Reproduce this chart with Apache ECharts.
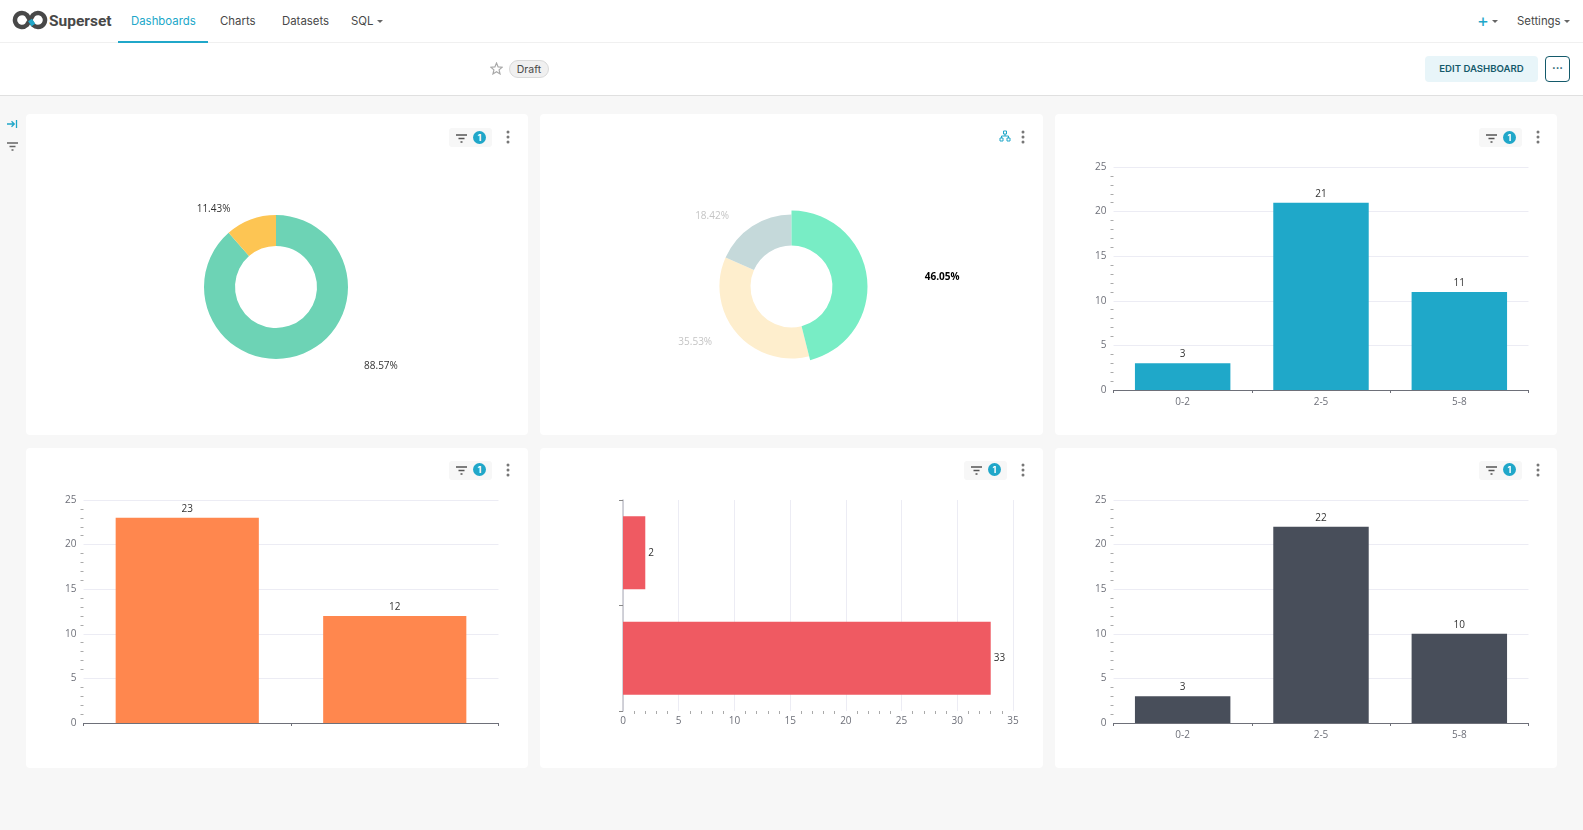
<!DOCTYPE html>
<html><head><meta charset="utf-8">
<script src="https://cdn.jsdelivr.net/npm/echarts@6/dist/echarts.min.js"></script>
<style>
html,body{margin:0;padding:0;width:1583px;height:830px;overflow:hidden;background:#f7f7f7;font-family:Inter,"Noto Sans",sans-serif;color:#484848}
.abs{position:absolute}
#chart{position:absolute;left:0;top:0;width:1583px;height:830px;z-index:2}
.card{position:absolute;background:#fff;border-radius:4px;z-index:1}
.ui{z-index:3}
.nav{font-size:11.4px;line-height:14px;white-space:nowrap}
svg{display:block}
</style></head><body>
<div class="abs" style="left:0;top:0;width:1583px;height:95px;background:#fff;border-bottom:1px solid #e0e0e0"></div>
<div class="abs" style="left:0;top:42px;width:1583px;height:1px;background:#f0f0f0"></div>
<div class="abs" style="left:118px;top:41px;width:90px;height:2px;background:#20a7c9"></div>
<svg class="abs" style="left:12px;top:10px" width="36" height="20" viewBox="0 0 36 20"><path d="M10 3a7 7 0 1 0 4.900 12L18 10l3.100-5A7 7 0 1 1 26 17a7 7 0 0 1-4.900-2L18 10l-3.100-5A7 7 0 0 0 10 3z" fill="none" stroke="#484848" stroke-width="4.500"/><path d="M18 10l3.400 5" stroke="#20a7c9" stroke-width="4.500"/></svg>
<div class="abs" style="left:49px;top:11px;font-family:Roboto,sans-serif;font-size:15.500px;font-weight:700;line-height:20px;color:#484848">Superset</div>
<div class="abs nav" style="left:131px;top:14px;color:#20a7c9">Dashboards</div>
<div class="abs nav" style="left:220px;top:14px">Charts</div>
<div class="abs nav" style="left:282px;top:14px">Datasets</div>
<div class="abs nav" style="left:351px;top:14px">SQL</div>
<div class="abs" style="left:377px;top:20px;border:3px solid transparent;border-top:3px solid #666"></div>
<div class="abs" style="left:1477px;top:15px;font-size:18px;line-height:12px;height:12px;color:#20a7c9">+</div>
<div class="abs" style="left:1492px;top:20px;border:3px solid transparent;border-top:3px solid #666"></div>
<div class="abs nav" style="left:1517px;top:14px">Settings</div>
<div class="abs" style="left:1564px;top:20px;border:3px solid transparent;border-top:3px solid #666"></div>
<svg class="abs" style="left:490px;top:62px" width="13" height="13" viewBox="0 0 24 24"><path d="M12 2l3 7 7.500.7-5.700 4.900 1.700 7.400L12 18l-6.500 4 1.700-7.400L1.500 9.700 9 9z" fill="none" stroke="#a8a8a8" stroke-width="2.200"/></svg>
<div class="abs" style="left:509px;top:60px;width:40px;height:18px;box-sizing:border-box;border:1px solid #d9d9d9;border-radius:9px;background:#f0f0f0;font-size:10.500px;line-height:17px;text-align:center;color:#484848">Draft</div>
<div class="abs" style="left:1425px;top:56px;width:113px;height:26px;background:#e8f5f9;border-radius:4px;font-size:9.600px;font-weight:600;line-height:25px;text-align:center;color:#145a6b">EDIT DASHBOARD</div>
<div class="abs" style="left:1545px;top:56px;width:25px;height:26px;box-sizing:border-box;border:1px solid #145a6b;border-radius:4px;font-size:11px;font-weight:700;line-height:22px;text-align:center;color:#145a6b">&#183;&#183;&#183;</div>
<svg class="abs" style="left:7px;top:119px" width="11" height="10" viewBox="0 0 11 10"><path d="M0 5h7M4.500 2.200L7.300 5 4.500 7.800M9.500 1v8" fill="none" stroke="#20a7c9" stroke-width="1.300"/></svg>
<svg class="abs" style="left:7px;top:142px" width="11" height="9" viewBox="0 0 11 9"><path d="M0 1h11M2.500 4.500h6M4.500 8h2" stroke="#666" stroke-width="1.500"/></svg>
<div id="cards"></div>
<div id="chart"></div>
<script>
// ---- data ----
const pieAgeNames = ['A', 'B'];
const pieAgeValues = [31, 4];
const pieSecondNames = ['A', 'B', 'C'];
const pieSecondValues = [35, 27, 14];
const barCategories = ['0-2', '2-5', '5-8'];
const barBlueValues = [3, 21, 11];
const barOrangeCategories = ['', ''];
const barOrangeValues = [23, 12];
const barRedCategories = ['', ''];
const barRedValues = [33, 2];
const barDarkValues = [3, 22, 10];

// ---- page cards ----
const cardBoxes = [[26,114,502,321,1,0,1],[540,114,503,321,0,0,1],[1055,114,502,321,1,1,1],[26,448,502,320,1,0,-1],[540,448,503,320,1,0,-1],[1055,448,502,320,1,1,-1]];
const cardsEl = document.getElementById('cards');
cardBoxes.forEach(([x,y,w,h,chip,dx,dy]) => {
  const r = x + w + dx;
  const cy = dy < 0 ? -1 : 0;
  let s = `<div class="card" style="left:${x}px;top:${y}px;width:${w}px;height:${h}px"></div>`;
  if (chip) {
    s += `<div class="abs ui" style="left:${r-79}px;top:${y+14+cy}px;width:43px;height:19px;background:#f7f7f7;border-radius:3px"></div>`;
    s += `<svg class="abs ui" style="left:${r-72}px;top:${y+19+dy}px" width="11" height="9" viewBox="0 0 11 9"><path d="M0 1h11M2.500 4.500h6M4.500 8h2" stroke="#555" stroke-width="1.400"/></svg>`;
    s += `<div class="abs ui" style="left:${r-55}px;top:${y+16+dy}px;width:13px;height:13px;border-radius:50%;background:#20a7c9;color:#fff;font-size:9px;font-weight:700;line-height:13px;text-align:center">1</div>`;
  } else {
    s += `<svg class="abs ui" style="left:${r-44}px;top:${y+16}px" width="12" height="12" viewBox="0 0 12 12"><path d="M4.500 1h3v3h-3zM1 8h3v3H1zM8 8h3v3H8zM6 4v2M2.500 8V6h7v2" fill="none" stroke="#20a7c9" stroke-width="1"/></svg>`;
  }
  s += `<svg class="abs ui" style="left:${r-22}px;top:${y+16+(dy<0?-1:0)}px" width="4" height="14" viewBox="0 0 4 14"><circle cx="2" cy="2" r="1.500" fill="#777"/><circle cx="2" cy="7" r="1.500" fill="#777"/><circle cx="2" cy="12" r="1.500" fill="#777"/></svg>`;
  cardsEl.insertAdjacentHTML('beforeend', s);
});

// ---- chart ----
const font = '"Open Sans"';
const axisGrey = '#6e7079';
const pieItems = (names, values, colors, labels) => names.map((n, i) => ({
  name: n, value: values[i], itemStyle: {color: colors[i]},
  emphasis: {itemStyle: {color: colors[i]}},
  label: labels[i]
}));
function vBar(gridIdx, data, color) {
  return {type:'bar', xAxisIndex:gridIdx, yAxisIndex:gridIdx, data, barCategoryGap:'31%',
    itemStyle:{color}, silent:true,
    label:{show:true, position:'top', distance:4, fontFamily:font, fontSize:10, color:'#333'}};
}
const grids = [
  {left:1113.5, top:167, width:415, height:223},
  {left:83.5, top:500, width:415, height:223},
  {left:623, top:500, width:390, height:211},
  {left:1113.5, top:500, width:415, height:223}
];
const valueAxis = i => ({type:'value', gridIndex:i, min:0, max:25, interval:5,
  axisLine:{show:false}, axisTick:{show:false},
  minorTick:{show:true, splitNumber:5, length:3, lineStyle:{color:'#aaa'}},
  splitLine:{lineStyle:{color:'#ececf4'}},
  axisLabel:{fontFamily:font, fontSize:10, color:axisGrey, margin:7}});
const catAxis = (i, data) => ({type:'category', gridIndex:i, data,
  axisLine:{lineStyle:{color:axisGrey}}, axisTick:{show:true, length:3, alignWithLabel:false, lineStyle:{color:axisGrey}},
  axisLabel:{fontFamily:font, fontSize:10, color:axisGrey, margin:7}});

const chart = echarts.init(document.getElementById('chart'), null, {renderer:'canvas'});
chart.setOption({
  animation:false,
  backgroundColor:'transparent',
  grid:grids,
  xAxis:[
    catAxis(0, barCategories),
    catAxis(1, barOrangeCategories),
    {type:'value', gridIndex:2, min:0, max:35, interval:5,
     axisLine:{show:false}, axisTick:{show:false},
     minorTick:{show:true, splitNumber:5, length:3, lineStyle:{color:'#aaa'}},
     splitLine:{lineStyle:{color:'#ececf4'}},
     axisLabel:{fontFamily:font, fontSize:10, color:axisGrey, margin:5}},
    catAxis(3, barCategories)
  ],
  yAxis:[
    valueAxis(0), valueAxis(1),
    {type:'category', gridIndex:2, data:barRedCategories,
     axisLine:{lineStyle:{color:'#c4c4cc', width:1.5}},
     axisTick:{show:true, length:4, lineStyle:{color:'#888'}}, axisLabel:{show:false}},
    valueAxis(3)
  ],
  series:[
    {type:'pie', center:[276,287], radius:[41,72], startAngle:90,
     label:{show:true, position:'outside', fontFamily:font, fontSize:10, color:'#333'},
     labelLine:{show:false}, percentPrecision:2, emphasis:{disabled:true},
     data:pieItems(pieAgeNames, pieAgeValues, ['#6dd3b5','#fdc553'], [
       {formatter:'{d}%', offset:[22.5,-2.5]},
       {formatter:'{d}%', offset:[20,4]}
     ])},
    {type:'pie', center:[791.5,286.5], radius:[41,72], startAngle:90,
     label:{show:true, position:'outside', fontFamily:font, fontSize:10, color:'#333'},
     labelLine:{show:false}, percentPrecision:2,
     emphasis:{scale:true, scaleSize:4, focus:'none', label:{show:true}, labelLine:{show:false}},
     data:pieItems(pieSecondNames, pieSecondValues, ['#78edc5','#feeecd','#c5d9da'], [
       {formatter:'{d}%', fontWeight:'bold', color:'#000', offset:[12,1]},
       {formatter:'{d}%', color:'#c4c4c4', offset:[22,-1]},
       {formatter:'{d}%', color:'#c4c4c4', offset:[20,2]}
     ])},
    vBar(0, barBlueValues, '#1fa8c9'),
    vBar(1, barOrangeValues, '#ff874e'),
    {type:'bar', xAxisIndex:2, yAxisIndex:2, data:barRedValues, barCategoryGap:'31%', silent:true,
     itemStyle:{color:'#ef5a62'},
     label:{show:true, position:'right', distance:3, fontFamily:font, fontSize:10, color:'#333'}},
    vBar(3, barDarkValues, '#484e5a')
  ]
});
chart.dispatchAction({type:'highlight', seriesIndex:1, dataIndex:0});
</script>
</body></html>
